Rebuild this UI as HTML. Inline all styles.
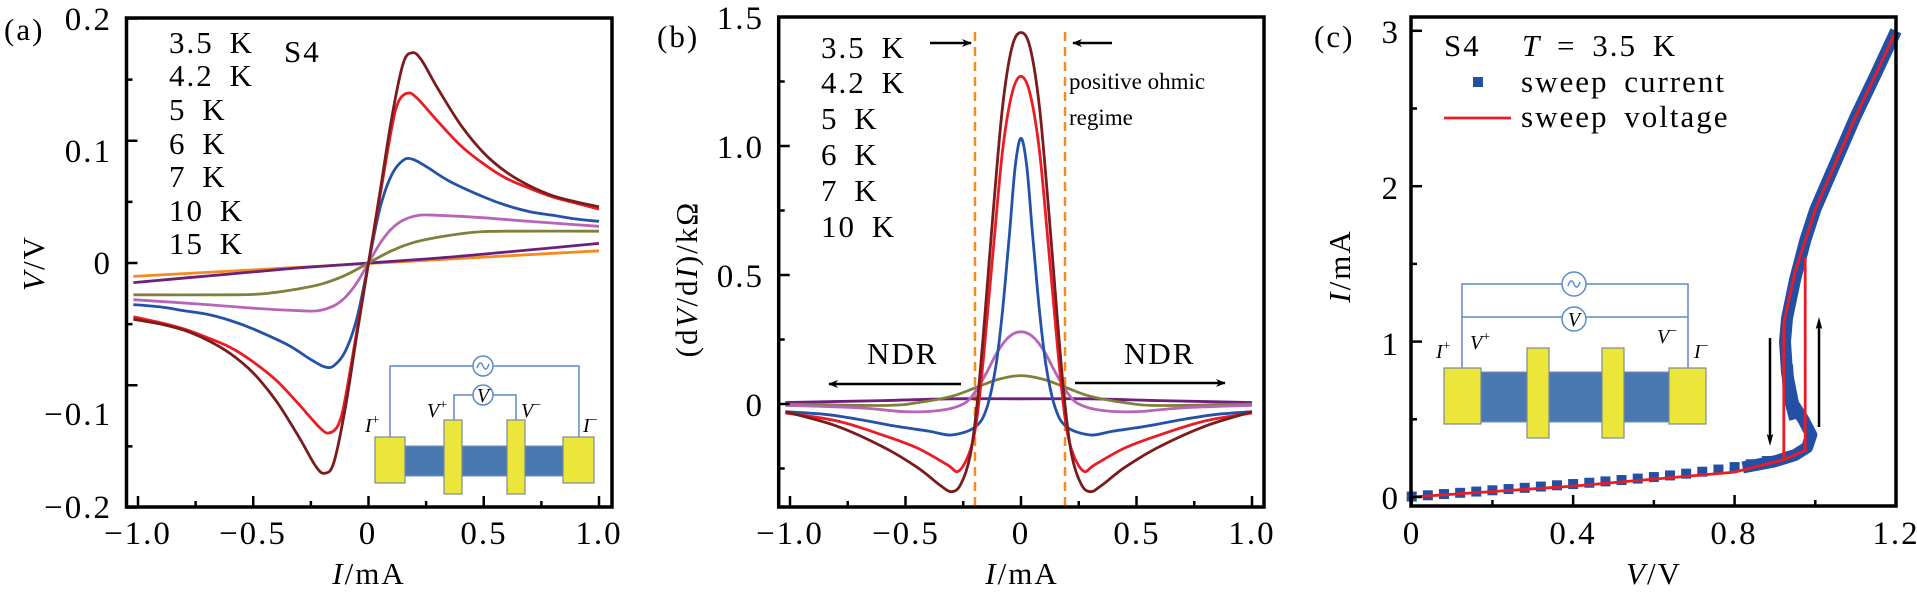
<!DOCTYPE html>
<html><head><meta charset="utf-8"><style>
html,body{margin:0;padding:0;background:#fff;}
svg{display:block;}
text{font-family:"Liberation Serif","DejaVu Serif",serif;fill:#000;}
.tk{font-size:33px;letter-spacing:2px;}
.lg{font-size:31px;letter-spacing:2px;word-spacing:6px;}
.sm{font-size:23px;}
.it{font-style:italic;}
</style></head><body>
<svg id="s" width="1917" height="595" viewBox="0 0 1917 595" xmlns="http://www.w3.org/2000/svg">
<defs>
<marker id="ah" markerWidth="10" markerHeight="10" refX="9" refY="5" orient="auto" markerUnits="userSpaceOnUse" viewBox="0 0 10 10"><path d="M0,1 L10,5 L0,9 L3,5 Z" fill="#000"/></marker>
<marker id="ah2" markerWidth="12" markerHeight="22" refX="11" refY="6" orient="auto" markerUnits="userSpaceOnUse" viewBox="0 0 22 12"><path d="M0,0 L22,6 L0,12 L4,6 Z" fill="#000"/></marker>
</defs>
<g id="g"></g>
<!-- Panel a text -->
<text x="4" y="40" class="lg">(a)</text>
<g class="tk" text-anchor="end">
<text x="112" y="30">0.2</text><text x="112" y="162">0.1</text><text x="112" y="274">0</text><text x="112" y="425">−0.1</text><text x="112" y="518">−0.2</text>
</g>
<g class="tk" text-anchor="middle">
<text x="138" y="544">−1.0</text><text x="253" y="544">−0.5</text><text x="368" y="544">0</text><text x="484" y="544">0.5</text><text x="599" y="544">1.0</text>
</g>
<text x="369" y="584" class="lg" text-anchor="middle" font-size="33"><tspan class="it">I</tspan>/mA</text>
<text transform="translate(44,263) rotate(-90)" class="lg" text-anchor="middle" font-size="33"><tspan class="it">V</tspan>/V</text>
<g class="lg">
<text x="169" y="53">3.5 K</text><text x="169" y="86">4.2 K</text><text x="169" y="120">5 K</text><text x="169" y="154">6 K</text><text x="169" y="187">7 K</text><text x="169" y="221">10 K</text><text x="169" y="254">15 K</text>
<text x="284" y="62">S4</text>
</g>
<!-- Panel b text -->
<text x="657" y="47" class="lg">(b)</text>
<g class="tk" text-anchor="end">
<text x="764" y="29">1.5</text><text x="764" y="158">1.0</text><text x="764" y="287">0.5</text><text x="764" y="416">0</text>
</g>
<g class="tk" text-anchor="middle">
<text x="790" y="544">−1.0</text><text x="906" y="544">−0.5</text><text x="1021" y="544">0</text><text x="1137" y="544">0.5</text><text x="1252" y="544">1.0</text>
</g>
<text x="1022" y="584" class="lg" text-anchor="middle" font-size="33"><tspan class="it">I</tspan>/mA</text>
<text transform="translate(697,279) rotate(-90)" class="lg" text-anchor="middle" font-size="31">(d<tspan class="it">V</tspan>/d<tspan class="it">I</tspan>)/kΩ</text>
<g class="lg">
<text x="821" y="58">3.5 K</text><text x="821" y="93">4.2 K</text><text x="821" y="129">5 K</text><text x="821" y="165">6 K</text><text x="821" y="201">7 K</text><text x="821" y="237">10 K</text>
<text x="867" y="364">NDR</text><text x="1124" y="364">NDR</text>
</g>
<text x="1069" y="89" class="sm">positive ohmic</text>
<text x="1069" y="125" class="sm">regime</text>
<!-- Panel c text -->
<text x="1314" y="47" class="lg">(c)</text>
<g class="tk" text-anchor="end">
<text x="1400" y="43">3</text><text x="1400" y="199">2</text><text x="1400" y="355">1</text><text x="1400" y="509">0</text>
</g>
<g class="tk" text-anchor="middle">
<text x="1412" y="544">0</text><text x="1573" y="544">0.4</text><text x="1734" y="544">0.8</text><text x="1896" y="544">1.2</text>
</g>
<text x="1654" y="584" class="lg" text-anchor="middle" font-size="33"><tspan class="it">V</tspan>/V</text>
<text transform="translate(1350,266) rotate(-90)" class="lg" text-anchor="middle" font-size="33"><tspan class="it">I</tspan>/mA</text>
<g class="lg">
<text x="1444" y="56">S4</text><text x="1522" y="56"><tspan class="it">T</tspan> = 3.5 K</text>
<text x="1521" y="92">sweep current</text><text x="1521" y="127">sweep voltage</text>
</g>
</svg>
<script>
var g=document.getElementById('g');var NS='http://www.w3.org/2000/svg';
function el(t,a){var e=document.createElementNS(NS,t);for(var k in a)e.setAttribute(k,a[k]);g.appendChild(e);return e;}
function cr(pts){var d='M'+pts[0][0].toFixed(1)+','+pts[0][1].toFixed(1);for(var i=0;i<pts.length-1;i++){var p0=pts[i-1]||pts[i],p1=pts[i],p2=pts[i+1],p3=pts[i+2]||p2;var c1x=p1[0]+(p2[0]-p0[0])/6,c1y=p1[1]+(p2[1]-p0[1])/6,c2x=p2[0]-(p3[0]-p1[0])/6,c2y=p2[1]-(p3[1]-p1[1])/6;d+=' C'+c1x.toFixed(1)+','+c1y.toFixed(1)+' '+c2x.toFixed(1)+','+c2y.toFixed(1)+' '+p2[0].toFixed(1)+','+p2[1].toFixed(1);}return d;}
function anti(p){var r=[];for(var i=p.length-1;i>0;i--)r.push([-p[i][0],-p[i][1]]);return r.concat(p);}
function sym(p){var r=[];for(var i=p.length-1;i>0;i--)r.push([-p[i][0],p[i][1]]);return r.concat(p);}
function ticks(x0,y0,x1,y1,xs,xm,ys,ym,X,Y){xs.forEach(function(v){el('line',{x1:X(v),x2:X(v),y1:y1,y2:y1-11,stroke:'#000','stroke-width':2.5});});xm.forEach(function(v){el('line',{x1:X(v),x2:X(v),y1:y1,y2:y1-6,stroke:'#000','stroke-width':2.5});});ys.forEach(function(v){el('line',{x1:x0,x2:x0+11,y1:Y(v),y2:Y(v),stroke:'#000','stroke-width':2.5});});ym.forEach(function(v){el('line',{x1:x0,x2:x0+6,y1:Y(v),y2:Y(v),stroke:'#000','stroke-width':2.5});});}
function box(x0,y0,x1,y1){el('rect',{x:x0,y:y0,width:x1-x0,height:y1-y0,fill:'none',stroke:'#000','stroke-width':3.5});}
var C={dr:'#7a1c1e',r:'#ec1c24',b:'#2352a8',m:'#b864b8',o:'#80803a',p:'#6c1f7c',or:'#f58a1f'};
function curve(p,X,Y,col,w){el('path',{d:cr(p.map(function(q){return [X(q[0]),Y(q[1])];})),fill:'none',stroke:col,'stroke-width':w||2.8,'stroke-linejoin':'round'});}
// Panel a
(function(){var X=function(v){return 368.5+v*230.5;},Y=function(v){return 263-v*1222.5;};
var L=1.02;
function ext(p){p=anti(p);p[0][0]=-L;return p;}
curve([[-L,-0.011],[1,0.010]],X,Y,C.or);
curve(ext([[0,0],[0.3,0.004],[0.6,0.009],[1,0.016]]),X,Y,C.p);
curve(ext([[0,0],[0.1,0.01],[0.2,0.017],[0.3,0.021],[0.45,0.025],[0.6,0.026],[1,0.026]]),X,Y,C.o);
curve(ext([[0,0],[0.05,0.016],[0.1,0.028],[0.15,0.035],[0.22,0.039],[0.3,0.039],[0.5,0.037],[0.7,0.034],[1,0.030]]),X,Y,C.m);
curve(ext([[0,0],[0.05,0.045],[0.1,0.072],[0.15,0.084],[0.19,0.085],[0.25,0.079],[0.35,0.067],[0.5,0.054],[0.6,0.047],[0.7,0.042],[0.8,0.039],[0.9,0.036],[1,0.034]]),X,Y,C.b);
curve(ext([[0,0],[0.05,0.055],[0.1,0.11],[0.13,0.132],[0.17,0.139],[0.21,0.135],[0.3,0.116],[0.4,0.096],[0.5,0.081],[0.6,0.069],[0.7,0.061],[0.8,0.054],[0.9,0.049],[1,0.044]]),X,Y,C.r);
curve(ext([[0,0],[0.05,0.058],[0.1,0.118],[0.15,0.163],[0.19,0.172],[0.23,0.166],[0.3,0.143],[0.4,0.113],[0.5,0.09],[0.6,0.074],[0.7,0.063],[0.8,0.055],[0.9,0.05],[1,0.046]]),X,Y,C.dr);
box(126.5,18,612,507);
ticks(126.5,18,612,507,[-1,-0.5,0,0.5,1],[-0.75,-0.25,0.25,0.75],[0.2,0.1,0,-0.1,-0.2],[0.15,0.05,-0.05,-0.15],X,Y);
})();
// Inset
function inset(o){var W='#5b8cc8';
el('polyline',{points:o.ow,fill:'none',stroke:W,'stroke-width':1.5});
el('polyline',{points:o.iw,fill:'none',stroke:W,'stroke-width':1.5});
el('rect',{x:o.bar[0],y:o.bar[1],width:o.bar[2],height:o.bar[3],fill:'#4a78b0',stroke:'#6f8fb8'});
o.pads.forEach(function(p){el('rect',{x:p[0],y:p[1],width:p[2],height:p[3],fill:'#ede63a',stroke:'#7a8a9a','stroke-width':1.2});});
o.circ.forEach(function(c,i){el('circle',{cx:c[0],cy:c[1],r:c[2],fill:'#fff',stroke:W,'stroke-width':1.5});
if(i==0){el('path',{d:'M'+(c[0]-6)+','+(c[1]+2)+' q3,-9 6,-2 q3,7 6,-2',fill:'none',stroke:W,'stroke-width':1.5});}
else{var t=el('text',{x:c[0],y:c[1]+7,'text-anchor':'middle','font-size':20,'font-style':'italic'});t.textContent='V';}});
o.lab.forEach(function(l){var t=el('text',{x:l[0],y:l[1],'font-size':20,'font-style':'italic'});t.innerHTML=l[2];});}
inset({ow:'390,437 390,366 579,366 579,437',iw:'454,420 454,395 516,395 516,420',bar:[404,446,160,30],
pads:[[375,437,30,46],[563,437,31,46],[444,420,18,74],[507,420,18,74]],circ:[[483,366,10],[483,395,10]],
lab:[[365,432,'I<tspan font-size="14" dy="-8" font-style="normal">+</tspan>'],[427,417,'V<tspan font-size="14" dy="-8" font-style="normal">+</tspan>'],[521,417,'V<tspan font-size="14" dy="-8" font-style="normal">−</tspan>'],[583,432,'I<tspan font-size="14" dy="-8" font-style="normal">−</tspan>']]});
// Panel b
(function(){var X=function(v){return 1021+v*231;},Y=function(v){return 404-v*258;};var L=1.02;
function ext(p){p=sym(p);p[0][0]=-L;return p;}
el('line',{x1:975,x2:975,y1:32,y2:505,stroke:C.or,'stroke-width':2.5,'stroke-dasharray':'9,6'});
el('line',{x1:1065,x2:1065,y1:32,y2:505,stroke:C.or,'stroke-width':2.5,'stroke-dasharray':'9,6'});
curve(ext([[0,0.02],[0.3,0.02],[0.6,0.013],[1,0.006]]),X,Y,C.p);
curve(ext([[0,0.11],[0.1,0.095],[0.2,0.062],[0.3,0.03],[0.45,0.005],[0.6,-0.006],[1,0.0]]),X,Y,C.o);
curve(ext([[0,0.28],[0.05,0.262],[0.1,0.205],[0.15,0.12],[0.2,0.045],[0.25,0.0],[0.35,-0.025],[0.5,-0.03],[0.7,-0.015],[1,-0.005]]),X,Y,C.m);
curve(ext([[0,1.03],[0.025,0.92],[0.05,0.66],[0.08,0.36],[0.11,0.14],[0.15,-0.02],[0.2,-0.09],[0.3,-0.12],[0.4,-0.105],[0.55,-0.085],[0.7,-0.06],[0.85,-0.04],[1.0,-0.03]]),X,Y,C.b);
curve(ext([[0,1.27],[0.04,1.2],[0.08,0.98],[0.12,0.6],[0.16,0.2],[0.19,-0.05],[0.22,-0.18],[0.27,-0.26],[0.32,-0.235],[0.45,-0.17],[0.6,-0.12],[0.8,-0.065],[1.0,-0.035]]),X,Y,C.r);
curve(ext([[0,1.44],[0.04,1.38],[0.08,1.15],[0.12,0.75],[0.16,0.3],[0.19,0.0],[0.22,-0.2],[0.26,-0.31],[0.3,-0.34],[0.35,-0.315],[0.45,-0.245],[0.6,-0.165],[0.8,-0.085],[1.0,-0.03]]),X,Y,C.dr);
box(778.7,17,1264,507);
ticks(778.7,17,1264,507,[-1,-0.5,0,0.5,1],[-0.75,-0.25,0.25,0.75],[1.5,1,0.5,0],[1.25,0.75,0.25,-0.25],X,Y);
el('line',{x1:930,y1:43,x2:971,y2:43,stroke:'#000','stroke-width':2.5,'marker-end':'url(#ah)'});
el('line',{x1:1112,y1:43,x2:1073,y2:43,stroke:'#000','stroke-width':2.5,'marker-end':'url(#ah)'});
el('line',{x1:961,y1:384,x2:829,y2:384,stroke:'#000','stroke-width':2.5,'marker-end':'url(#ah)'});
el('line',{x1:1075,y1:383,x2:1225,y2:383,stroke:'#000','stroke-width':2.5,'marker-end':'url(#ah)'});
})();
// Panel c
(function(){var X=function(v){return 1411.7+v*403.6;},Y=function(v){return 497-v*155.4;};
function P(a){return a.map(function(q){return X(q[0]).toFixed(1)+','+Y(q[1]).toFixed(1);}).join(' ');}
for(var v=0;v<=0.9;v+=0.04){var i=0.003+0.2*v+0.06*Math.pow(v/0.9,6);el('rect',{x:X(v)-5,y:Y(i)-5,width:10,height:10,fill:'#2350a4'});}
el('polyline',{points:P([[0.82,0.19],[0.9,0.23],[0.95,0.27],[0.98,0.32],[0.99,0.4],[0.97,0.5],[0.945,0.6],[0.93,0.8],[0.925,1.0],[0.93,1.15],[0.95,1.4],[0.975,1.65],[1.0,1.85],[1.05,2.15],[1.1,2.45],[1.15,2.72],[1.2,3.0]]),fill:'none',stroke:'#2350a4','stroke-width':12,'stroke-linejoin':'round'});
el('polyline',{points:P([[0.95,0.5],[0.935,0.65],[0.93,0.85]]),fill:'none',stroke:'#2350a4','stroke-width':12});
el('polyline',{points:P([[0,0.0],[0.4,0.07],[0.8,0.16],[0.922,0.24],[0.975,0.3],[0.975,1.54]]),fill:'none',stroke:C.r,'stroke-width':2.8});
el('polyline',{points:P([[0.922,0.24],[0.922,1.12],[0.95,1.45],[0.975,1.65],[1.0,1.85],[1.05,2.15],[1.1,2.45],[1.15,2.72],[1.2,3.0]]),fill:'none',stroke:C.r,'stroke-width':2.8,'stroke-linejoin':'round'});
box(1411,17,1896,506);
ticks(1411,17,1896,506,[0,0.4,0.8,1.2],[0.2,0.6,1.0],[0,1,2,3],[0.5,1.5,2.5],X,Y);
el('line',{x1:1770,y1:338,x2:1770,y2:440,stroke:'#000','stroke-width':2.5,'marker-end':'url(#ah2)'});
el('line',{x1:1819,y1:427,x2:1819,y2:323,stroke:'#000','stroke-width':2.5,'marker-end':'url(#ah2)'});
el('rect',{x:1473,y:77,width:10,height:10,fill:'#2350a4'});
el('line',{x1:1444,y1:118,x2:1511,y2:118,stroke:C.r,'stroke-width':2.8});
})();
inset({ow:'1462,368 1462,284 1688,284 1688,368',iw:'1462,317 1688,317',bar:[1480,372,190,50],
pads:[[1444,368,37,56],[1669,368,37,56],[1527,348,22,90],[1602,348,22,90]],circ:[[1574,284,12],[1574,319,12]],
lab:[[1436,358,'I<tspan font-size="14" dy="-8" font-style="normal">+</tspan>'],[1470,349,'V<tspan font-size="14" dy="-8" font-style="normal">+</tspan>'],[1657,343,'V<tspan font-size="14" dy="-8" font-style="normal">−</tspan>'],[1694,358,'I<tspan font-size="14" dy="-8" font-style="normal">−</tspan>']]});
</script>
</body></html>
